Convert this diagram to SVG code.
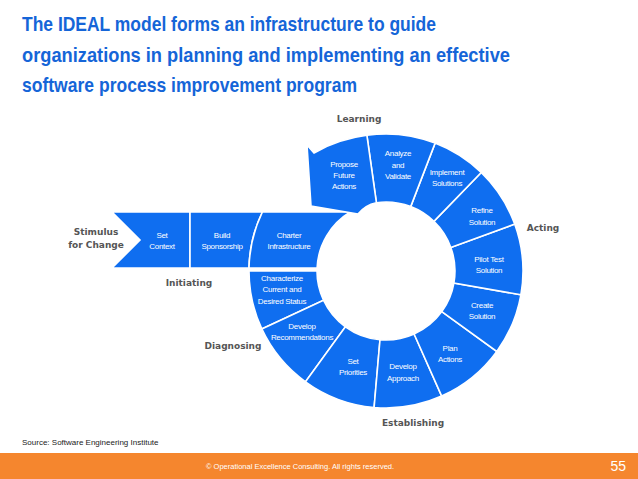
<svg xmlns="http://www.w3.org/2000/svg" width="638" height="479" viewBox="0 0 638 479">
<style>
.seg{fill:#0f6ef0;stroke:#fff;stroke-width:1.6}
.t{font-family:"Liberation Sans",Arial,sans-serif;font-size:8px;fill:#fff;text-anchor:middle;letter-spacing:-0.3px}
.st{font-family:"DejaVu Sans",sans-serif;font-size:9px;font-weight:bold;fill:#555;text-anchor:middle}
.title{font-family:"Liberation Sans",Arial,sans-serif;font-size:21px;font-weight:bold;fill:#1565d8}
</style>
<rect width="638" height="479" fill="#fff"/>
<text class="title" x="22" y="31" textLength="414" lengthAdjust="spacingAndGlyphs">The IDEAL model forms an infrastructure to guide</text>
<text class="title" x="22" y="62" textLength="488" lengthAdjust="spacingAndGlyphs">organizations in planning and implementing an effective</text>
<text class="title" x="22" y="92" textLength="335" lengthAdjust="spacingAndGlyphs">software process improvement program</text>
<g id="nodes">
<g id="set-context"><path class="seg" d="M112,212 L190,212 L190,268 L112,268 L140,240 Z"/><text class="t" x="162" y="238">Set</text><text class="t" x="162" y="249">Context</text></g>
<g id="build"><path class="seg" d="M190,212 L262.4,212 A137 137 0 0 0 249,268 L190,268 Z"/><text class="t" x="222" y="238">Build</text><text class="t" x="222" y="249">Sponsorship</text></g>
<g id="charter"><path class="seg" d="M262.4,212 L350.2,212 A69 69 0 0 0 317.1,268 L249,268 A137 137 0 0 1 262.4,212 Z"/><text class="t" x="289" y="238">Charter</text><text class="t" x="289" y="249">Infrastructure</text></g>
<g id="characterize"><path class="seg" d="M261.8,328.9 A137 137 0 0 1 249,271 L317,271 A69 69 0 0 0 323.5,300.2 Z"/><text class="t" x="282" y="281">Characterize</text><text class="t" x="282" y="292">Current and</text><text class="t" x="282" y="304">Desired Status</text></g>
<g id="develop-rec"><path class="seg" d="M305.5,381.8 A137 137 0 0 1 261.8,328.9 L323.5,300.2 A69 69 0 0 0 345.4,326.8 Z"/><text class="t" x="302" y="329">Develop</text><text class="t" x="302" y="340">Recommendations</text></g>
<g id="set-priorities"><path class="seg" d="M374.1,407.5 A137 137 0 0 1 305.5,381.8 L345.4,326.8 A69 69 0 0 0 380,339.7 Z"/><text class="t" x="353" y="364">Set</text><text class="t" x="353" y="375">Priorities</text></g>
<g id="develop-approach"><path class="seg" d="M441.7,396.1 A137 137 0 0 1 374.1,407.5 L380,339.7 A69 69 0 0 0 414.1,334 Z"/><text class="t" x="403" y="369">Develop</text><text class="t" x="403" y="381">Approach</text></g>
<g id="plan-actions"><path class="seg" d="M496.8,351.5 A137 137 0 0 1 441.7,396.1 L414.1,334 A69 69 0 0 0 441.8,311.6 Z"/><text class="t" x="450" y="351">Plan</text><text class="t" x="450" y="362">Actions</text></g>
<g id="create-solution"><path class="seg" d="M520.9,294.8 A137 137 0 0 1 496.8,351.5 L441.8,311.6 A69 69 0 0 0 453.9,283 Z"/><text class="t" x="482" y="308">Create</text><text class="t" x="482" y="319">Solution</text></g>
<g id="pilot-test"><path class="seg" d="M514.7,224.1 A137 137 0 0 1 520.9,294.8 L453.9,283 A69 69 0 0 0 450.8,247.4 Z"/><text class="t" x="489" y="262">Pilot Test</text><text class="t" x="489" y="273">Solution</text></g>
<g id="refine"><path class="seg" d="M481.2,172.5 A137 137 0 0 1 514.7,224.1 L450.8,247.4 A69 69 0 0 0 433.9,221.4 Z"/><text class="t" x="482" y="213">Refine</text><text class="t" x="482" y="225">Solution</text></g>
<g id="implement"><path class="seg" d="M435.1,143.1 A137 137 0 0 1 481.2,172.5 L433.9,221.4 A69 69 0 0 0 410.7,206.6 Z"/><text class="t" x="447" y="175">Implement</text><text class="t" x="447" y="186">Solutions</text></g>
<g id="analyze"><path class="seg" d="M366.9,135.3 A137 137 0 0 1 435.1,143.1 L410.7,206.6 A69 69 0 0 0 376.4,202.7 Z"/><text class="t" x="398" y="156">Analyze</text><text class="t" x="398" y="168">and</text><text class="t" x="398" y="179">Validate</text></g>
<g id="propose"><path class="seg" d="M307,145 L314,153 Q338,139 366.9,135.3 L376.4,202.7 Q365,205 358,214 L311,206 Z"/><text class="t" x="344" y="167">Propose</text><text class="t" x="344" y="178">Future</text><text class="t" x="344" y="189">Actions</text></g>
</g>
<g id="connectors"></g>
<g id="labels">
<text class="st" x="96" y="235">Stimulus</text><text class="st" x="96" y="248">for Change</text>
<text class="st" x="359" y="122">Learning</text>
<text class="st" x="543" y="231">Acting</text>
<text class="st" x="189" y="286">Initiating</text>
<text class="st" x="233" y="349">Diagnosing</text>
<text class="st" x="413" y="426">Establishing</text>
</g>
<text x="22" y="445" font-family="Liberation Sans,Arial,sans-serif" font-size="8" fill="#222">Source: Software Engineering Institute</text>
<rect x="0" y="453" width="638" height="26" fill="#f5862e"/>
<text x="300" y="469" font-family="Liberation Sans,Arial,sans-serif" font-size="7.5" fill="#fff" text-anchor="middle">© Operational Excellence Consulting.  All rights reserved.</text>
<text x="626" y="471" font-family="Liberation Sans,Arial,sans-serif" font-size="14" fill="#fff" text-anchor="end">55</text>
</svg>
